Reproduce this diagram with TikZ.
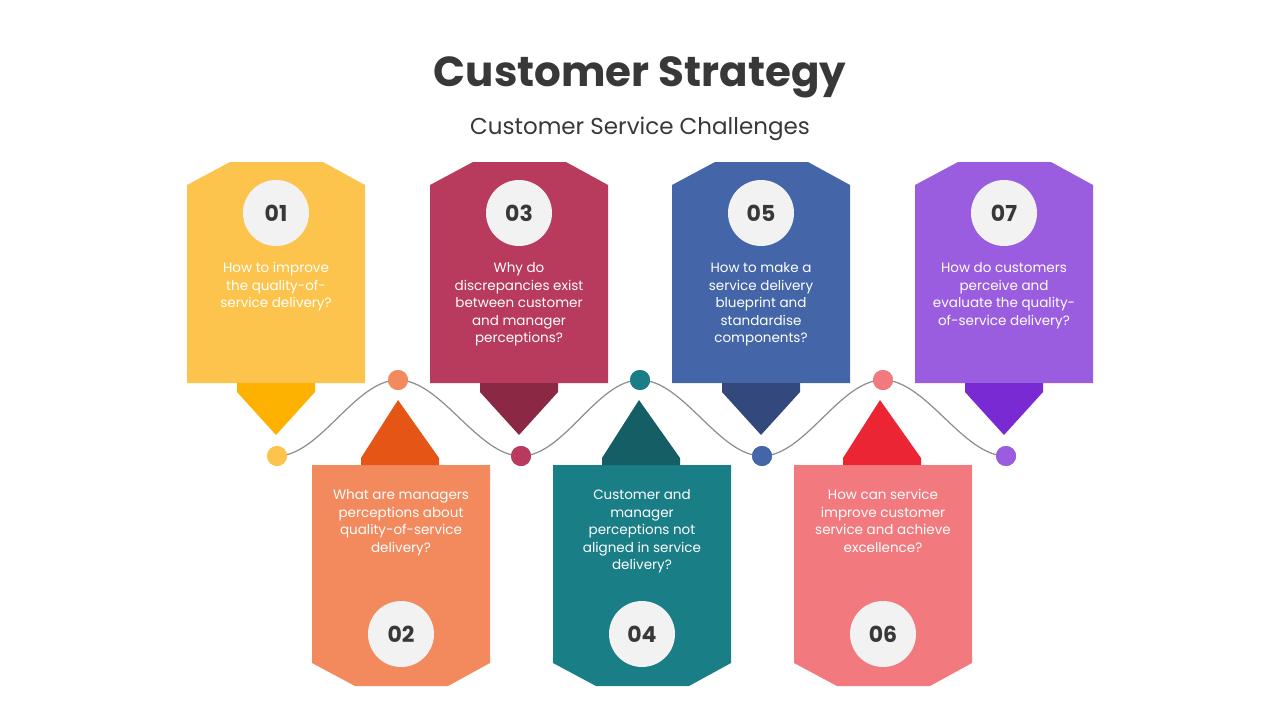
\documentclass[tikz,border=0pt]{standalone}
\usepackage{fontspec}
\setmainfont{Poppins}
\begin{document}
\begin{tikzpicture}[x=1pt,y=-1pt,
  txt/.style={text=white,align=center,font=\fontsize{13.5}{17.5}\selectfont,anchor=north},
  num/.style={circle,fill=black!5,minimum size=66pt,inner sep=0,text=black!78,font=\fontsize{22}{24}\bfseries\selectfont},
  dot/.style={circle,minimum size=20pt,inner sep=0}]
\useasboundingbox (0,0) rectangle (1280,720);
\definecolor{c1}{HTML}{FDC44D}\definecolor{t1}{HTML}{FDB100}
\definecolor{c2}{HTML}{F28A5E}\definecolor{t2}{HTML}{E55515}
\definecolor{c3}{HTML}{B83A5C}\definecolor{t3}{HTML}{8B2945}
\definecolor{c4}{HTML}{1A7E87}\definecolor{t4}{HTML}{155E65}
\definecolor{c5}{HTML}{4466A9}\definecolor{t5}{HTML}{33497E}
\definecolor{c6}{HTML}{F27A7E}\definecolor{t6}{HTML}{EB2533}
\definecolor{c7}{HTML}{9B5DE0}\definecolor{t7}{HTML}{7A2AD2}
\node[text=black!78,font=\fontsize{42}{46}\bfseries\selectfont] (title) at (640,77) {Customer Strategy};
\node[text=black!78,font=\fontsize{23}{26}\selectfont] (sub) at (640,129) {Customer Service Challenges};
% wave
\node[dot,fill=c1] (d1) at (277,456) {};
\node[dot,fill=c2] (d2) at (398,380) {};
\node[dot,fill=c3] (d3) at (521,456) {};
\node[dot,fill=c4] (d4) at (640,380) {};
\node[dot,fill=c5] (d5) at (762,456) {};
\node[dot,fill=c6] (d6) at (883,380) {};
\node[dot,fill=c7] (d7) at (1006,456) {};
\draw[black!45,line width=1.2pt] (d1.center) .. controls (320,456) and (355,380) .. (d2.center)
 .. controls (441,380) and (478,456) .. (d3.center)
 .. controls (564,456) and (597,380) .. (d4.center)
 .. controls (683,380) and (719,456) .. (d5.center)
 .. controls (805,456) and (840,380) .. (d6.center)
 .. controls (926,380) and (963,456) .. (d7.center);
\foreach \n in {1,...,7}{\node[dot,fill=c\n] at (d\n) {};}
% top cards
\foreach \cx/\i/\t in {276/1/{How to improve\\the quality-of-\\service delivery?},519/3/{Why do\\discrepancies exist\\between customer\\and manager\\perceptions?},761/5/{How to make a\\service delivery\\blueprint and\\standardise\\components?},1004/7/{How do customers\\perceive and\\evaluate the quality-\\of-service delivery?}}{
  \fill[c\i] (\cx-89,185) -- (\cx-46,162) -- (\cx+47,162) -- (\cx+89,185) -- (\cx+89,383) -- (\cx-89,383) -- cycle;
  \fill[t\i] (\cx-39,383) -- (\cx+39,383) -- (\cx+39,392) -- (\cx,435) -- (\cx-39,392) -- cycle;
  \node[num] (n\i) at (\cx,213) {0\i};
  \node[txt] (q\i) at (\cx,259) {\t};
}
% bottom cards
\foreach \cx/\i/\t in {401/2/{What are managers\\perceptions about\\quality-of-service\\delivery?},642/4/{Customer and\\manager\\perceptions not\\aligned in service\\delivery?},883/6/{How can service\\improve customer\\service and achieve\\excellence?}}{
  \fill[c\i] (\cx-89,465) -- (\cx+89,465) -- (\cx+89,663) -- (\cx+47,686) -- (\cx-46,686) -- (\cx-89,663) -- cycle;
  \fill[t\i] (\cx-40,465) -- (\cx+38,465) -- (\cx+38,458) -- (\cx-3,400) -- (\cx-40,458) -- cycle;
  \node[num] (n\i) at (\cx,634) {0\i};
  \node[txt] (q\i) at (\cx,486) {\t};
}
\end{tikzpicture}
\end{document}
